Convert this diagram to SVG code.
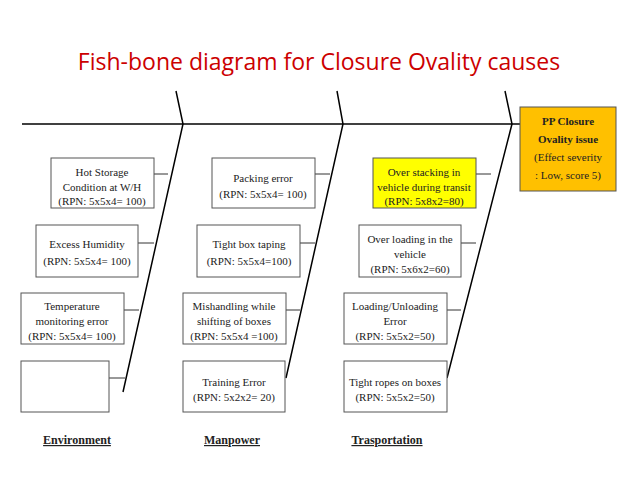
<svg xmlns="http://www.w3.org/2000/svg" width="638" height="478" viewBox="0 0 638 478">
<style>
.b{fill:#fff;stroke:#555;stroke-width:1}
.t{font-family:"Liberation Serif","DejaVu Serif",serif;font-size:11px;fill:#222;text-anchor:middle}
.c{stroke:#000;stroke-width:1.5;fill:none}
.s{stroke:#333;stroke-width:1;fill:none}
.l{font-family:"Liberation Serif",serif;font-size:12px;font-weight:bold;text-decoration:underline;fill:#222;text-anchor:middle}
</style>
<rect width="638" height="478" fill="#fff"/>
<text x="319" y="70" font-family="Open Sans,Liberation Sans,sans-serif" font-size="23" fill="#CC0000" text-anchor="middle">Fish-bone diagram for Closure Ovality causes</text>
<g id="connectors">
<line class="c" x1="22" y1="124" x2="520" y2="124" stroke-width="2.5"/>
<polyline class="c" points="176,91 183,124 123,392"/>
<polyline class="c" points="337,91 343,124 286,378"/>
<polyline class="c" points="505,91 512,124 447,378"/>
<line class="s" x1="154" y1="174" x2="168" y2="174"/>
<line class="s" x1="138" y1="243" x2="154" y2="243"/>
<line class="s" x1="124" y1="310" x2="139" y2="310"/>
<line class="s" x1="109" y1="378" x2="125" y2="378"/>
<line class="s" x1="315" y1="174" x2="330" y2="174"/>
<line class="s" x1="300" y1="243" x2="315" y2="243"/>
<line class="s" x1="286" y1="310" x2="300" y2="310"/>
<line class="s" x1="476" y1="174" x2="491" y2="174"/>
<line class="s" x1="461" y1="243" x2="476" y2="243"/>
<line class="s" x1="447" y1="310" x2="461" y2="310"/>
</g>
<g id="head"><rect x="520" y="107" width="96" height="84" fill="#FFC000" stroke="#555"/>
<text class="t" font-size="12.5" font-weight="bold" x="568" y="125">PP Closure</text>
<text class="t" font-size="12.5" font-weight="bold" x="568" y="143">Ovality issue</text>
<text class="t" font-size="12.5" x="568" y="161">(Effect severity</text>
<text class="t" font-size="12.5" x="568" y="179">: Low, score 5)</text></g>
<g id="env1"><rect class="b" x="51" y="158" width="103" height="50"/><text class="t" x="102" y="176">Hot Storage</text><text class="t" x="102" y="191">Condition at W/H</text><text class="t" x="102" y="205">(RPN: 5x5x4= 100)</text></g>
<g id="env2"><rect class="b" x="36" y="225" width="102" height="52"/><text class="t" x="87" y="248">Excess Humidity</text><text class="t" x="87" y="265">(RPN: 5x5x4= 100)</text></g>
<g id="env3"><rect class="b" x="21" y="293" width="103" height="51"/><text class="t" x="72" y="310">Temperature</text><text class="t" x="72" y="325">monitoring error</text><text class="t" x="72" y="340">(RPN: 5x5x4= 100)</text></g>
<g id="env4"><rect class="b" x="21" y="361" width="88" height="51"/></g>
<g id="man1"><rect class="b" x="212" y="158" width="103" height="50"/><text class="t" x="263" y="182">Packing error</text><text class="t" x="263" y="198">(RPN: 5x5x4= 100)</text></g>
<g id="man2"><rect class="b" x="197" y="225" width="103" height="52"/><text class="t" x="249" y="248">Tight box taping</text><text class="t" x="249" y="265">(RPN: 5x5x4=100)</text></g>
<g id="man3"><rect class="b" x="183" y="293" width="103" height="51"/><text class="t" x="234" y="310">Mishandling while</text><text class="t" x="234" y="325">shifting of boxes</text><text class="t" x="234" y="340">(RPN: 5x5x4 =100)</text></g>
<g id="man4"><rect class="b" x="183" y="361" width="102" height="51"/><text class="t" x="234" y="386">Training Error</text><text class="t" x="234" y="401">(RPN: 5x2x2= 20)</text></g>
<g id="tr1"><rect x="373" y="158" width="103" height="50" fill="#FFFF00" stroke="#555"/><text class="t" x="424" y="176">Over stacking in</text><text class="t" x="424" y="191">vehicle during transit</text><text class="t" x="424" y="205">(RPN: 5x8x2=80)</text></g>
<g id="tr2"><rect class="b" x="359" y="225" width="102" height="52"/><text class="t" x="410" y="243">Over loading in the</text><text class="t" x="410" y="258">vehicle</text><text class="t" x="410" y="273">(RPN: 5x6x2=60)</text></g>
<g id="tr3"><rect class="b" x="344" y="293" width="103" height="51"/><text class="t" x="395" y="310">Loading/Unloading</text><text class="t" x="395" y="325">Error</text><text class="t" x="395" y="340">(RPN: 5x5x2=50)</text></g>
<g id="tr4"><rect class="b" x="344" y="361" width="103" height="51"/><text class="t" x="395" y="386">Tight ropes on boxes</text><text class="t" x="395" y="401">(RPN: 5x5x2=50)</text></g>
<g id="labels"><text class="l" x="77" y="444">Environment</text><text class="l" x="232" y="444">Manpower</text><text class="l" x="387" y="444">Trasportation</text></g>
</svg>
